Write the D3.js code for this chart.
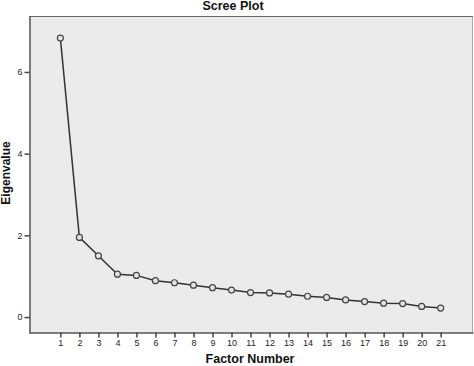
<!DOCTYPE html>
<html>
<head>
<meta charset="utf-8">
<script src="https://cdn.jsdelivr.net/npm/d3@7"></script>
<style>
  body { margin: 0; background: #fff; }
  svg { display: block; font-family: "Liberation Sans", Arial, sans-serif; }
</style>
</head>
<body>
<div id="plot"></div>
<script>
// Data
var factors = [1, 2, 3, 4, 5, 6, 7, 8, 9, 10, 11, 12, 13, 14, 15, 16, 17, 18, 19, 20, 21];
var eigenvalues = [6.83, 1.95, 1.50, 1.05, 1.02, 0.89, 0.84, 0.78, 0.72, 0.66, 0.60, 0.59,
                   0.56, 0.51, 0.48, 0.42, 0.38, 0.34, 0.33, 0.26, 0.22];
var yTicks = [0, 2, 4, 6];

function init() {
  var w = 474;
  var h = 366;
  var left = 29, top = 16, right = 473, bottom = 333;

  var svg = d3.select("#plot")
    .append("svg")
    .attr("width", w)
    .attr("height", h);

  // x is categorical in SPSS, use a linear scale with padding at both ends
  var xScale = d3.scaleLinear()
    .domain([-0.65, 22.7])
    .range([left, right]);

  var yScale = d3.scaleLinear()
    .domain([-0.39, 7.37])
    .range([bottom, top]);

  // plot background
  svg.append("rect")
    .attr("x", left)
    .attr("y", top)
    .attr("width", right - left)
    .attr("height", bottom - top)
    .style("fill", "#ebebeb");

  // frame
  svg.append("line")
    .attr("x1", right - 0.5).attr("x2", right - 0.5)
    .attr("y1", top).attr("y2", bottom)
    .style("stroke", "#aaa");
  svg.append("line")
    .attr("x1", left).attr("x2", right)
    .attr("y1", top + 0.5).attr("y2", top + 0.5)
    .style("stroke", "#666");

  // axes
  var xAxis = d3.axisBottom(xScale)
    .tickValues(factors)
    .tickSizeInner(5)
    .tickSizeOuter(0)
    .tickPadding(2);

  var yAxis = d3.axisLeft(yScale)
    .tickValues(yTicks)
    .tickSizeInner(5)
    .tickSizeOuter(0)
    .tickPadding(2);

  var gx = svg.append("g")
    .attr("transform", "translate(0," + (bottom - 0.5) + ")")
    .call(xAxis);

  var gy = svg.append("g")
    .attr("transform", "translate(" + (left + 0.5) + ",0)")
    .call(yAxis);

  [gx, gy].forEach(function(g) {
    g.select(".domain").style("stroke", "#555").style("stroke-width", 1.5);
    g.selectAll(".tick line").style("stroke", "#444").style("stroke-width", 1.5);
    g.selectAll(".tick text")
      .style("font-size", "9px")
      .style("fill", "#222")
      .style("font-family", "\"Liberation Sans\", Arial, sans-serif");
  });

  // the line
  var pts = factors.map(function(f, i) { return [f, eigenvalues[i]]; });

  var line = d3.line()
    .x(function(d) { return xScale(d[0]); })
    .y(function(d) { return yScale(d[1]); });

  svg.append("path")
    .datum(pts)
    .attr("d", line)
    .style("fill", "none")
    .style("stroke", "#333")
    .style("stroke-width", 1.5);

  svg.selectAll("circle")
    .data(pts)
    .enter()
    .append("circle")
    .attr("cx", function(d) { return xScale(d[0]); })
    .attr("cy", function(d) { return yScale(d[1]); })
    .attr("r", 3)
    .style("fill", "#e4e4e4")
    .style("stroke", "#444")
    .style("stroke-width", 1.2);

  // title
  svg.append("text")
    .attr("text-anchor", "middle")
    .attr("x", 233)
    .attr("y", 10)
    .style("font-size", "12.5px")
    .style("font-weight", "bold")
    .style("fill", "#111")
    .text("Scree Plot");

  // x label
  svg.append("text")
    .attr("text-anchor", "middle")
    .attr("x", 250)
    .attr("y", 363)
    .style("font-size", "12.5px")
    .style("font-weight", "bold")
    .style("fill", "#111")
    .text("Factor Number");

  // y label
  svg.append("text")
    .attr("text-anchor", "middle")
    .attr("transform", "rotate(-90)")
    .attr("x", -173)
    .attr("y", 10)
    .style("font-size", "12px")
    .style("font-weight", "bold")
    .style("fill", "#111")
    .text("Eigenvalue");
}

window.onload = init;
</script>
</body>
</html>
